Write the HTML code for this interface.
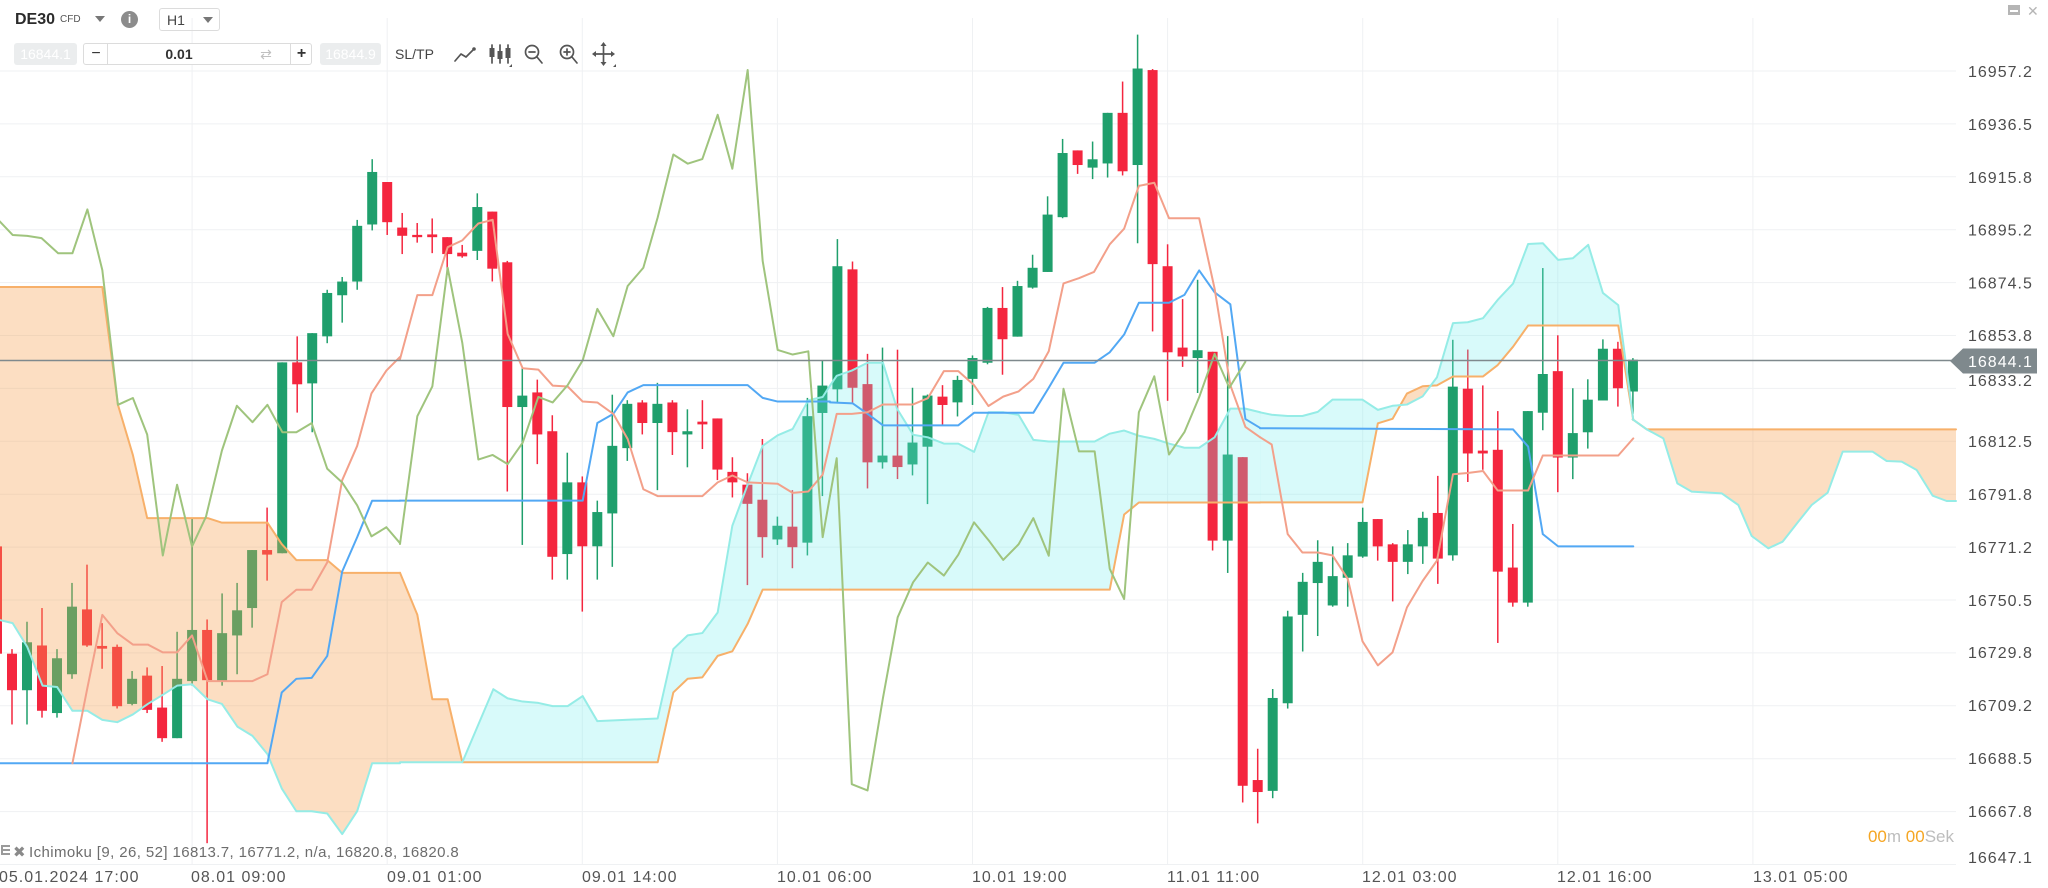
<!DOCTYPE html>
<html><head><meta charset="utf-8"><style>
html,body{margin:0;padding:0;background:#fff;}
body{width:2048px;height:888px;position:relative;overflow:hidden;font-family:"Liberation Sans",Arial,sans-serif;}
svg{position:absolute;left:0;top:0;}
.g{fill:#1f9f6c}.r{fill:#f4263f}
.ln{fill:none;stroke-width:2;vector-effect:non-scaling-stroke;stroke-linejoin:round;stroke-linecap:round}
.sa{stroke:#95ece6}.sb{stroke:#f7b06a}.tk{stroke:#f3a08a}.kj{stroke:#52a8f4}.ck{stroke:#9fc47d}
.fo{fill:rgba(246,160,80,0.35)}.fc{fill:rgba(110,235,235,0.27)}
.yl{font-size:16px;fill:#4d4d4d;letter-spacing:1px}
.xl{font-size:16px;fill:#555;letter-spacing:1px}
.tb{position:absolute;box-sizing:border-box;}
</style></head><body>
<svg width="2048" height="888" viewBox="0 0 2048 888">
<!-- grid -->
<g stroke="#eff1f3" stroke-width="1">
<line x1="0" y1="71" x2="1956" y2="71"/><line x1="0" y1="123.9" x2="1956" y2="123.9"/><line x1="0" y1="176.8" x2="1956" y2="176.8"/><line x1="0" y1="229.7" x2="1956" y2="229.7"/><line x1="0" y1="282.6" x2="1956" y2="282.6"/><line x1="0" y1="335.5" x2="1956" y2="335.5"/><line x1="0" y1="388.4" x2="1956" y2="388.4"/><line x1="0" y1="441.3" x2="1956" y2="441.3"/><line x1="0" y1="494.2" x2="1956" y2="494.2"/><line x1="0" y1="547.1" x2="1956" y2="547.1"/><line x1="0" y1="600" x2="1956" y2="600"/><line x1="0" y1="652.9" x2="1956" y2="652.9"/><line x1="0" y1="705.8" x2="1956" y2="705.8"/><line x1="0" y1="758.7" x2="1956" y2="758.7"/><line x1="0" y1="811.6" x2="1956" y2="811.6"/><line x1="0" y1="864.5" x2="1956" y2="864.5"/>
<line x1="192.1" y1="18" x2="192.1" y2="865"/><line x1="387.2" y1="18" x2="387.2" y2="865"/><line x1="582.3" y1="18" x2="582.3" y2="865"/><line x1="777.4" y1="18" x2="777.4" y2="865"/><line x1="972.5" y1="18" x2="972.5" y2="865"/><line x1="1167.6" y1="18" x2="1167.6" y2="865"/><line x1="1362.7" y1="18" x2="1362.7" y2="865"/><line x1="1557.8" y1="18" x2="1557.8" y2="865"/><line x1="1752.9" y1="18" x2="1752.9" y2="865"/>
</g>

<!-- candles G6 -->
<g transform="translate(0,140) scale(1,0.45662)">
<rect class="r" x="-8" y="890" width="10" height="235"/><rect class="r" x="-3.75" y="885" width="1.5" height="245"/>
<rect class="r" x="7" y="1125" width="10" height="80"/><rect class="r" x="11.25" y="1115" width="1.5" height="165"/>
<rect class="g" x="22" y="1100" width="10" height="105"/><rect class="g" x="26.25" y="1055" width="1.5" height="225"/>
<rect class="r" x="37" y="1107" width="10" height="143"/><rect class="r" x="41.25" y="1025" width="1.5" height="240"/>
<rect class="g" x="52" y="1135" width="10" height="120"/><rect class="g" x="56.25" y="1115" width="1.5" height="150"/>
<rect class="g" x="67" y="1022" width="10" height="148"/><rect class="g" x="71.25" y="970" width="1.5" height="210"/>
<rect class="r" x="82" y="1028" width="10" height="79"/><rect class="r" x="86.25" y="930" width="1.5" height="180"/>
<rect class="r" x="97.1" y="1108" width="10" height="6"/><rect class="r" x="101.35" y="1058" width="1.5" height="100"/>
<rect class="r" x="112.1" y="1110" width="10" height="130"/><rect class="r" x="116.35" y="1105" width="1.5" height="140"/>
<rect class="g" x="127.1" y="1180" width="10" height="55"/><rect class="g" x="131.35" y="1163" width="1.5" height="75"/>
<rect class="r" x="142.1" y="1173" width="10" height="75"/><rect class="r" x="146.35" y="1155" width="1.5" height="100"/>
<rect class="r" x="157.1" y="1243" width="10" height="67"/><rect class="r" x="161.35" y="1152" width="1.5" height="166"/>
<rect class="g" x="172.1" y="1180" width="10" height="130"/><rect class="g" x="176.35" y="1077" width="1.5" height="233"/>
<rect class="g" x="187.1" y="1073" width="10" height="112"/><rect class="g" x="191.35" y="830" width="1.5" height="365"/>
<rect class="r" x="202.1" y="1073" width="10" height="110"/><rect class="r" x="206.35" y="1050" width="1.5" height="490"/>
<rect class="g" x="217.1" y="1080" width="10" height="105"/><rect class="g" x="221.35" y="993" width="1.5" height="202"/>
<rect class="g" x="232.1" y="1030" width="10" height="55"/><rect class="g" x="236.35" y="970" width="1.5" height="200"/>
<rect class="g" x="247.1" y="898" width="10" height="127"/><rect class="g" x="251.35" y="898" width="1.5" height="170"/>
<rect class="r" x="262.1" y="898" width="10" height="10"/><rect class="r" x="266.35" y="805" width="1.5" height="160"/>
<rect class="g" x="277.2" y="487" width="10" height="418"/><rect class="g" x="281.45" y="487" width="1.5" height="418"/>
<rect class="r" x="292.2" y="487" width="10" height="48"/><rect class="r" x="296.45" y="430" width="1.5" height="167"/>
<rect class="g" x="307.2" y="423" width="10" height="110"/><rect class="g" x="311.45" y="423" width="1.5" height="217"/>
<rect class="g" x="322.2" y="335" width="10" height="95"/><rect class="g" x="326.45" y="328" width="1.5" height="117"/>
<rect class="g" x="337.2" y="310" width="10" height="30"/><rect class="g" x="341.45" y="300" width="1.5" height="100"/>
<rect class="g" x="352.2" y="188" width="10" height="122"/><rect class="g" x="356.45" y="175" width="1.5" height="153"/>
<rect class="g" x="367.2" y="70" width="10" height="115"/><rect class="g" x="371.45" y="42" width="1.5" height="156"/>
<rect class="r" x="382.2" y="92" width="10" height="88"/><rect class="r" x="386.45" y="92" width="1.5" height="116"/>
</g>
<!-- candles G7 -->
<g transform="translate(0,60) scale(1,0.45662)">
<rect class="r" x="397.2" y="367" width="10" height="18"/><rect class="r" x="401.45" y="335" width="1.5" height="90"/>
<rect class="r" x="412.2" y="383" width="10" height="5"/><rect class="r" x="416.45" y="357" width="1.5" height="43"/>
<rect class="r" x="427.2" y="382" width="10" height="6"/><rect class="r" x="431.45" y="347" width="1.5" height="76"/>
<rect class="r" x="442.2" y="388" width="10" height="37"/><rect class="r" x="446.45" y="388" width="1.5" height="82"/>
<rect class="r" x="457.2" y="422" width="10" height="8"/><rect class="r" x="461.45" y="405" width="1.5" height="28"/>
<rect class="g" x="472.3" y="322" width="10" height="96"/><rect class="g" x="476.55" y="292" width="1.5" height="146"/>
<rect class="r" x="487.3" y="332" width="10" height="125"/><rect class="r" x="491.55" y="332" width="1.5" height="153"/>
<rect class="r" x="502.3" y="443" width="10" height="317"/><rect class="r" x="506.55" y="440" width="1.5" height="505"/>
<rect class="g" x="517.3" y="735" width="10" height="25"/><rect class="g" x="521.55" y="675" width="1.5" height="387"/>
<rect class="r" x="532.3" y="728" width="10" height="92"/><rect class="r" x="536.55" y="700" width="1.5" height="185"/>
<rect class="r" x="547.3" y="813" width="10" height="275"/><rect class="r" x="551.55" y="778" width="1.5" height="360"/>
<rect class="g" x="562.3" y="925" width="10" height="157"/><rect class="g" x="566.55" y="860" width="1.5" height="278"/>
<rect class="r" x="577.3" y="925" width="10" height="140"/><rect class="r" x="581.55" y="912" width="1.5" height="296"/>
<rect class="g" x="592.3" y="990" width="10" height="75"/><rect class="g" x="596.55" y="965" width="1.5" height="173"/>
<rect class="g" x="607.3" y="845" width="10" height="148"/><rect class="g" x="611.55" y="733" width="1.5" height="377"/>
<rect class="g" x="622.3" y="753" width="10" height="97"/><rect class="g" x="626.55" y="745" width="1.5" height="133"/>
<rect class="r" x="637.3" y="750" width="10" height="45"/><rect class="r" x="641.55" y="745" width="1.5" height="75"/>
<rect class="g" x="652.4" y="753" width="10" height="42"/><rect class="g" x="656.65" y="707" width="1.5" height="235"/>
<rect class="r" x="667.4" y="750" width="10" height="65"/><rect class="r" x="671.65" y="745" width="1.5" height="120"/>
<rect class="g" x="682.4" y="813" width="10" height="7"/><rect class="g" x="686.65" y="765" width="1.5" height="127"/>
<rect class="r" x="697.4" y="792" width="10" height="6"/><rect class="r" x="701.65" y="745" width="1.5" height="107"/>
<rect class="r" x="712.4" y="785" width="10" height="112"/><rect class="r" x="716.65" y="785" width="1.5" height="135"/>
<rect class="r" x="727.4" y="902" width="10" height="23"/><rect class="r" x="731.65" y="870" width="1.5" height="88"/>
<rect class="r" x="742.4" y="930" width="10" height="42"/><rect class="r" x="746.65" y="905" width="1.5" height="245"/>
<rect class="r" x="757.4" y="963" width="10" height="82"/><rect class="r" x="761.65" y="830" width="1.5" height="260"/>
<rect class="g" x="772.4" y="1020" width="10" height="30"/><rect class="g" x="776.65" y="1000" width="1.5" height="62"/>
<rect class="r" x="787.4" y="1022" width="10" height="45"/><rect class="r" x="791.65" y="942" width="1.5" height="171"/>
<rect class="g" x="802.4" y="780" width="10" height="277"/><rect class="g" x="806.65" y="740" width="1.5" height="345"/>
<rect class="g" x="817.4" y="713" width="10" height="60"/><rect class="g" x="821.65" y="657" width="1.5" height="298"/>
</g>
<!-- candles G8 -->
<g transform="translate(0,20) scale(1,0.52165)">
<rect class="g" x="832.4" y="472" width="10" height="236"/><rect class="g" x="836.65" y="420" width="1.5" height="315"/>
<rect class="r" x="847.5" y="478" width="10" height="227"/><rect class="r" x="851.75" y="463" width="1.5" height="272"/>
<rect class="r" x="862.5" y="698" width="10" height="150"/><rect class="r" x="866.75" y="640" width="1.5" height="258"/>
<rect class="g" x="877.5" y="835" width="10" height="13"/><rect class="g" x="881.75" y="628" width="1.5" height="232"/>
<rect class="r" x="892.5" y="835" width="10" height="22"/><rect class="r" x="896.75" y="632" width="1.5" height="248"/>
<rect class="g" x="907.5" y="810" width="10" height="42"/><rect class="g" x="911.75" y="705" width="1.5" height="168"/>
<rect class="g" x="922.5" y="720" width="10" height="98"/><rect class="g" x="926.75" y="718" width="1.5" height="210"/>
<rect class="r" x="937.5" y="722" width="10" height="16"/><rect class="r" x="941.75" y="700" width="1.5" height="78"/>
<rect class="g" x="952.5" y="690" width="10" height="43"/><rect class="g" x="956.75" y="682" width="1.5" height="78"/>
<rect class="g" x="967.5" y="648" width="10" height="40"/><rect class="g" x="971.75" y="643" width="1.5" height="95"/>
<rect class="g" x="982.5" y="552" width="10" height="105"/><rect class="g" x="986.75" y="550" width="1.5" height="110"/>
<rect class="r" x="997.5" y="552" width="10" height="60"/><rect class="r" x="1001.75" y="512" width="1.5" height="168"/>
<rect class="g" x="1012.5" y="510" width="10" height="97"/><rect class="g" x="1016.75" y="500" width="1.5" height="107"/>
<rect class="g" x="1027.6" y="475" width="10" height="38"/><rect class="g" x="1031.85" y="450" width="1.5" height="65"/>
<rect class="g" x="1042.6" y="373" width="10" height="110"/><rect class="g" x="1046.85" y="338" width="1.5" height="145"/>
<rect class="g" x="1057.6" y="255" width="10" height="123"/><rect class="g" x="1061.85" y="228" width="1.5" height="152"/>
<rect class="r" x="1072.6" y="250" width="10" height="28"/><rect class="r" x="1076.85" y="250" width="1.5" height="45"/>
<rect class="g" x="1087.6" y="267" width="10" height="16"/><rect class="g" x="1091.85" y="233" width="1.5" height="72"/>
<rect class="g" x="1102.6" y="178" width="10" height="97"/><rect class="g" x="1106.85" y="178" width="1.5" height="124"/>
<rect class="r" x="1117.6" y="178" width="10" height="112"/><rect class="r" x="1121.85" y="118" width="1.5" height="180"/>
<rect class="g" x="1132.6" y="93" width="10" height="185"/><rect class="g" x="1136.85" y="28" width="1.5" height="400"/>
<rect class="r" x="1147.6" y="96" width="10" height="372"/><rect class="r" x="1151.85" y="94" width="1.5" height="503"/>
<rect class="r" x="1162.6" y="472" width="10" height="165"/><rect class="r" x="1166.85" y="430" width="1.5" height="300"/>
<rect class="r" x="1177.6" y="628" width="10" height="17"/><rect class="r" x="1181.85" y="535" width="1.5" height="130"/>
<rect class="g" x="1192.6" y="633" width="10" height="15"/><rect class="g" x="1196.85" y="498" width="1.5" height="217"/>
<rect class="r" x="1207.6" y="636" width="10" height="362"/><rect class="r" x="1211.85" y="636" width="1.5" height="381"/>
<rect class="g" x="1222.7" y="833" width="10" height="165"/><rect class="g" x="1226.95" y="606" width="1.5" height="454"/>
<rect class="r" x="1237.7" y="838" width="10" height="630"/><rect class="r" x="1241.95" y="838" width="1.5" height="662"/>
<rect class="r" x="1252.7" y="1457" width="10" height="23"/><rect class="r" x="1256.95" y="1397" width="1.5" height="143"/>
</g>
<!-- candles G9 -->
<g transform="translate(0,200) scale(1,0.40750)">
<rect class="g" x="1267.7" y="1222" width="10" height="228"/><rect class="g" x="1271.95" y="1200" width="1.5" height="268"/>
<rect class="g" x="1282.7" y="1022" width="10" height="213"/><rect class="g" x="1286.95" y="1008" width="1.5" height="240"/>
<rect class="g" x="1297.7" y="937" width="10" height="81"/><rect class="g" x="1301.95" y="915" width="1.5" height="193"/>
<rect class="g" x="1312.7" y="888" width="10" height="52"/><rect class="g" x="1316.95" y="835" width="1.5" height="235"/>
<rect class="g" x="1327.7" y="923" width="10" height="72"/><rect class="g" x="1331.95" y="850" width="1.5" height="148"/>
<rect class="g" x="1342.7" y="872" width="10" height="55"/><rect class="g" x="1346.95" y="842" width="1.5" height="156"/>
<rect class="g" x="1357.7" y="790" width="10" height="85"/><rect class="g" x="1361.95" y="755" width="1.5" height="123"/>
<rect class="r" x="1372.7" y="783" width="10" height="67"/><rect class="r" x="1376.95" y="783" width="1.5" height="102"/>
<rect class="r" x="1387.7" y="845" width="10" height="43"/><rect class="r" x="1391.95" y="842" width="1.5" height="143"/>
<rect class="g" x="1402.8" y="845" width="10" height="43"/><rect class="g" x="1407.05" y="810" width="1.5" height="108"/>
<rect class="g" x="1417.8" y="780" width="10" height="70"/><rect class="g" x="1422.05" y="765" width="1.5" height="128"/>
<rect class="r" x="1432.8" y="768" width="10" height="112"/><rect class="r" x="1437.05" y="677" width="1.5" height="265"/>
<rect class="g" x="1447.8" y="458" width="10" height="414"/><rect class="g" x="1452.05" y="343" width="1.5" height="542"/>
<rect class="r" x="1462.8" y="463" width="10" height="159"/><rect class="r" x="1467.05" y="367" width="1.5" height="325"/>
<rect class="r" x="1477.8" y="615" width="10" height="7"/><rect class="r" x="1482.05" y="455" width="1.5" height="207"/>
<rect class="r" x="1492.8" y="613" width="10" height="299"/><rect class="r" x="1497.05" y="518" width="1.5" height="569"/>
<rect class="r" x="1507.8" y="902" width="10" height="86"/><rect class="r" x="1512.05" y="795" width="1.5" height="203"/>
<rect class="g" x="1522.8" y="518" width="10" height="470"/><rect class="g" x="1527.05" y="518" width="1.5" height="480"/>
<rect class="g" x="1537.8" y="427" width="10" height="95"/><rect class="g" x="1542.05" y="167" width="1.5" height="398"/>
<rect class="r" x="1552.8" y="420" width="10" height="212"/><rect class="r" x="1557.05" y="332" width="1.5" height="385"/>
<rect class="g" x="1567.8" y="572" width="10" height="60"/><rect class="g" x="1572.05" y="462" width="1.5" height="223"/>
<rect class="g" x="1582.8" y="490" width="10" height="80"/><rect class="g" x="1587.05" y="440" width="1.5" height="170"/>
<rect class="g" x="1597.9" y="365" width="10" height="127"/><rect class="g" x="1602.15" y="342" width="1.5" height="150"/>
<rect class="r" x="1612.9" y="365" width="10" height="97"/><rect class="r" x="1617.15" y="348" width="1.5" height="159"/>
<rect class="g" x="1627.9" y="392" width="10" height="78"/><rect class="g" x="1632.15" y="388" width="1.5" height="137"/>
</g>

<!-- cloud fills + lines -->
<g transform="translate(0,140) scale(0.33223,0.45662)">
<polygon class="fo" points="-9,322 308,322 355,580 400,690 443,828 625,828 668,838 805,838 848,885 892,920 985,920 1030,948 1204,948 1204,1365 1120,1365 1075,1470 1030,1520 985,1475 938,1470 892,1470 848,1420 805,1345 760,1305 715,1285 668,1235 625,1225 578,1192 533,1195 490,1215 445,1235 400,1258 353,1275 308,1270 263,1250 218,1250 172,1198 128,1195 82,1110 38,1058 -9,1050"/>
<polyline class="ln sb" vector-effect="non-scaling-stroke" points="-9,322 308,322 355,580 400,690 443,828 625,828 668,838 805,838 848,885 892,920 985,920 1030,948 1204,948"/>
<polyline class="ln sa" vector-effect="non-scaling-stroke" points="-9,1050 38,1058 82,1110 128,1195 172,1198 218,1250 263,1250 308,1270 353,1275 400,1258 445,1235 490,1215 533,1195 578,1192 625,1225 668,1235 715,1285 760,1305 805,1345 848,1420 892,1470 938,1470 985,1475 1030,1520 1075,1470 1120,1365 1204,1365"/>
<polyline class="ln kj" vector-effect="non-scaling-stroke" points="-9,1365 805,1365 848,1210 892,1180 938,1178 985,1130 1030,945 1075,870 1120,790 1204,790"/>
<polyline class="ln tk" vector-effect="non-scaling-stroke" points="218,1365 263,1200 308,1040 353,1080 400,1105 445,1105 490,1122 533,1122 578,1085 625,1185 760,1185 805,1170 848,1012 892,985 938,985 985,925 1030,745 1075,670 1118,555 1163,505 1204,475"/>
<polyline class="ln ck" vector-effect="non-scaling-stroke" points="-9,172 38,208 82,210 125,215 175,248 218,248 263,152 308,285 355,580 400,565 443,645 490,910 533,755 578,890 620,825 668,680 713,582 760,618 805,580 850,640 892,640 938,620 985,720 1030,750 1075,800 1118,868 1163,848 1204,883"/>
</g>
<g transform="translate(400,60) scale(0.33333,0.45662)">
<polygon class="fo" points="0,1123 52,1215 97,1400 143,1400 187,1538 0,1538"/>
<polygon class="fc" points="187,1538 280,1378 323,1398 368,1405 415,1408 458,1415 503,1415 548,1393 592,1448 773,1442 820,1290 863,1260 907,1255 953,1210 997,1020 1043,930 1088,845 1133,822 1178,808 1225,745 1268,738 1290,713 1290,1160 1088,1160 1043,1235 997,1295 953,1305 907,1352 863,1355 820,1385 773,1538"/>
<polyline class="ln sb" vector-effect="non-scaling-stroke" points="0,1123 52,1215 97,1400 143,1400 187,1538 773,1538 820,1385 863,1355 907,1352 953,1305 997,1295 1043,1235 1088,1160 1290,1160"/>
<polyline class="ln sa" vector-effect="non-scaling-stroke" points="0,1538 187,1538 280,1378 323,1398 368,1405 415,1408 458,1415 503,1415 548,1393 592,1448 773,1442 820,1290 863,1260 907,1255 953,1210 997,1020 1043,930 1088,845 1133,822 1178,808 1225,745 1268,738 1290,713"/>
<polyline class="ln kj" vector-effect="non-scaling-stroke" points="0,965 548,965 592,795 640,775 683,728 730,712 1043,712 1088,740 1133,748 1290,748"/>
<polyline class="ln tk" vector-effect="non-scaling-stroke" points="0,655 52,515 97,515 143,410 187,395 235,358 278,350 323,600 368,675 415,678 458,713 503,715 548,748 592,750 640,775 683,830 730,940 773,955 907,955 953,925 997,910 1043,925 1133,928 1178,948 1225,945 1268,908 1290,839"/>
<polyline class="ln ck" vector-effect="non-scaling-stroke" points="0,1060 52,780 97,715 143,455 187,620 235,875 278,865 323,885 368,838 415,738 458,750 503,712 548,658 592,545 640,605 683,495 730,455 773,345 820,207 863,227 907,217 953,120 997,238 1043,22 1088,440 1133,635 1178,645 1225,638 1268,1045 1290,955"/>
</g>
<g transform="translate(830,20) scale(0.33501,0.52165)">
<polygon class="fc" points="0,701 20,682 65,672 112,657 158,657 200,745 248,795 292,800 340,812 383,812 430,828 473,752 517,752 563,757 607,805 653,808 790,808 835,793 878,787 922,797 968,803 1012,812 1058,820 1102,820 1148,800 1195,745 1240,745 1284,752 1284,925 922,925 878,948 835,1092 0,1092"/>
<polyline class="ln sb" vector-effect="non-scaling-stroke" points="0,1092 835,1092 878,948 922,925 1284,925"/>
<polyline class="ln sa" vector-effect="non-scaling-stroke" points="0,701 20,682 65,672 112,657 158,657 200,745 248,795 292,800 340,812 383,812 430,828 473,752 517,752 563,757 607,805 653,808 790,808 835,793 878,787 922,797 968,803 1012,812 1058,820 1102,820 1148,800 1195,745 1240,745 1284,752"/>
<polyline class="ln kj" vector-effect="non-scaling-stroke" points="0,733 68,735 112,755 158,777 383,777 430,753 607,753 653,705 697,657 790,657 835,637 878,603 922,542 1012,542 1058,527 1102,480 1148,522 1195,545 1240,765 1284,782"/>
<polyline class="ln tk" vector-effect="non-scaling-stroke" points="0,811 20,755 65,755 112,752 158,737 248,737 292,725 340,673 383,673 430,700 473,740 517,722 563,712 607,688 653,635 697,505 743,495 788,483 835,430 878,400 922,318 968,312 1012,380 1102,380 1148,515 1195,700 1240,780 1284,800"/>
<polyline class="ln ck" vector-effect="non-scaling-stroke" points="0,912 20,840 65,1465 112,1477 158,1300 202,1145 248,1078 292,1040 340,1065 383,1025 430,963 473,997 517,1035 563,1005 607,955 653,1027 697,707 743,827 790,827 835,1052 878,1110 922,752 968,683 1012,833 1058,790 1102,723 1148,640 1192,705 1240,655"/>
</g>
<g transform="translate(1260,200) scale(0.33389,0.40750)">
<polygon class="fc" points="0,521 35,527 83,530 127,530 173,520 217,490 263,490 307,490 353,515 397,505 420,503 397,537 353,548 307,742 0,742"/>
<polygon class="fo" points="420,503 440,475 487,457 511,456 487,482 440,502"/>
<polygon class="fc" points="511,456 530,435 578,302 622,300 668,290 712,245 758,205 803,108 847,106 893,147 937,143 983,110 1027,228 1073,258 1118,540 1073,308 803,308 758,360 712,405 668,433 578,433 530,455"/>
<polyline class="ln sb" vector-effect="non-scaling-stroke" points="0,742 307,742 353,548 397,537 440,475 487,457 530,455 578,433 668,433 712,405 758,360 803,308 1073,308 1118,540"/>
<polyline class="ln sa" vector-effect="non-scaling-stroke" points="0,521 35,527 83,530 127,530 173,520 217,490 263,490 307,490 353,515 397,505 440,502 487,482 530,435 578,302 622,300 668,290 712,245 758,205 803,108 847,106 893,147 937,143 983,110 1027,228 1073,258 1118,540"/>
<polyline class="ln kj" vector-effect="non-scaling-stroke" points="0,560 758,563 803,605 847,820 893,850 1118,850"/>
<polyline class="ln tk" vector-effect="non-scaling-stroke" points="0,582 35,600 83,820 127,865 173,865 217,872 263,930 307,1083 353,1142 397,1110 440,1000 487,935 530,885 578,673 622,670 668,665 712,713 803,713 847,627 1073,627 1118,585"/>
</g>
<g transform="translate(1600,330) scale(0.33333,0.33333)">
<polygon class="fo" points="98,268 140,298 1068,298 1068,513 1040,513 998,497 950,420 905,395 860,393 818,365 728,365 683,488 635,525 595,575 548,635 505,655 455,618 415,525 365,490 275,485 232,460 190,325 140,298"/>
<polyline class="ln sb" vector-effect="non-scaling-stroke" points="98,268 140,298 1068,298"/>
<polyline class="ln sa" vector-effect="non-scaling-stroke" points="98,268 140,298 190,325 232,460 275,485 365,490 415,525 455,618 505,655 548,635 595,575 635,525 683,488 728,365 818,365 860,393 905,395 950,420 998,497 1040,513 1068,513"/>
</g>

<!-- current price line -->
<line x1="0" y1="360.5" x2="1952" y2="360.5" stroke="#7f898d" stroke-width="1.6"/>
<polygon points="1950,361 1963,348.5 2037,348.5 2037,373.5 1963,373.5" fill="#7f898d"/>
<text x="1968" y="367" class="yl" style="fill:#fff">16844.1</text>

<!-- y labels -->
<text class="yl" x="1968" y="77">16957.2</text>
<text class="yl" x="1968" y="130">16936.5</text>
<text class="yl" x="1968" y="183">16915.8</text>
<text class="yl" x="1968" y="235.5">16895.2</text>
<text class="yl" x="1968" y="288.5">16874.5</text>
<text class="yl" x="1968" y="341">16853.8</text>
<text class="yl" x="1968" y="386">16833.2</text>
<text class="yl" x="1968" y="447">16812.5</text>
<text class="yl" x="1968" y="500">16791.8</text>
<text class="yl" x="1968" y="553">16771.2</text>
<text class="yl" x="1968" y="606">16750.5</text>
<text class="yl" x="1968" y="658">16729.8</text>
<text class="yl" x="1968" y="711">16709.2</text>
<text class="yl" x="1968" y="764">16688.5</text>
<text class="yl" x="1968" y="817">16667.8</text>
<text class="yl" x="1968" y="863">16647.1</text>

<!-- x labels -->
<text class="xl" x="-1" y="882">05.01.2024 17:00</text>
<text class="xl" x="191" y="882">08.01 09:00</text>
<text class="xl" x="387" y="882">09.01 01:00</text>
<text class="xl" x="582" y="882">09.01 14:00</text>
<text class="xl" x="777" y="882">10.01 06:00</text>
<text class="xl" x="972" y="882">10.01 19:00</text>
<text class="xl" x="1167" y="882">11.01 11:00</text>
<text class="xl" x="1362" y="882">12.01 03:00</text>
<text class="xl" x="1557" y="882">12.01 16:00</text>
<text class="xl" x="1753" y="882">13.01 05:00</text>

<!-- indicator label -->
<g fill="#9a9a9a"><rect x="1" y="845" width="9" height="2"/><rect x="1" y="849" width="9" height="2"/><rect x="1" y="853" width="9" height="2"/><rect x="1" y="845" width="2" height="10"/></g>
<text x="13" y="857" font-size="15" fill="#8a8a8a">✖</text>
<text x="29" y="857" font-size="15" fill="#6d6d6d" style="letter-spacing:0.4px">Ichimoku [9, 26, 52] 16813.7, 16771.2, n/a, 16820.8, 16820.8</text>

<!-- timer -->
<text x="1954" y="842" text-anchor="end" font-size="17"><tspan fill="#f5a623">00</tspan><tspan fill="#bdbdbd">m </tspan><tspan fill="#f5a623">00</tspan><tspan fill="#bdbdbd">Sek</tspan></text>

<!-- top right icons -->
<rect x="2008" y="5" width="12" height="10" fill="#b5b5b5"/><rect x="2010" y="10" width="8" height="2" fill="#fff"/>
<text x="2027" y="16" font-size="14" fill="#b5b5b5">✕</text>

<!-- toolbar icons -->
<g fill="none" stroke="#555" stroke-width="1.7" stroke-linecap="round" stroke-linejoin="round">
<polyline points="455,61 461,54 466,57 474,49"/>
<line x1="492" y1="45" x2="492" y2="63"/><line x1="500" y1="45" x2="500" y2="63"/><line x1="508" y1="45" x2="508" y2="63"/>
<circle cx="532" cy="52" r="6.5"/><line x1="537" y1="57" x2="542" y2="63"/><line x1="529" y1="52" x2="535" y2="52"/>
<circle cx="567" cy="52" r="6.5"/><line x1="572" y1="57" x2="577" y2="63"/><line x1="564" y1="52" x2="570" y2="52"/><line x1="567" y1="49" x2="567" y2="55"/>
<line x1="594" y1="54" x2="613" y2="54"/><line x1="603.5" y1="44" x2="603.5" y2="64"/>
</g>
<g fill="#555">
<rect x="489.5" y="48" width="5" height="9"/><rect x="497.5" y="51" width="5" height="8"/><rect x="505.5" y="48" width="5" height="10"/>
<circle cx="474" cy="49" r="1.8"/>
<polygon points="603.5,42 600.5,46 606.5,46"/><polygon points="603.5,66 600.5,62 606.5,62"/><polygon points="592,54 596,51 596,57"/><polygon points="615,54 611,51 611,57"/>
<polygon points="512,64 512,67 509,67"/><polygon points="616,64 616,67 613,67"/>
</g>
</svg>

<!-- toolbar HTML -->
<div class="tb" style="left:15px;top:10px;font-size:16px;font-weight:bold;color:#2b2b2b;line-height:20px;">DE30</div>
<div class="tb" style="left:60px;top:14px;font-size:10px;color:#555;line-height:12px;">CFD</div>
<div class="tb" style="left:95px;top:16px;width:0;height:0;border-left:5px solid transparent;border-right:5px solid transparent;border-top:6px solid #777;"></div>
<div class="tb" style="left:121px;top:11px;width:17px;height:17px;border-radius:50%;background:#8c8c8c;color:#fff;font-size:12px;font-weight:bold;text-align:center;line-height:17px;">i</div>
<div class="tb" style="left:159px;top:8px;width:61px;height:23px;border:1px solid #dcdcdc;border-radius:3px;"></div>
<div class="tb" style="left:167px;top:12px;font-size:14px;color:#444;line-height:16px;">H1</div>
<div class="tb" style="left:203px;top:17px;width:0;height:0;border-left:5px solid transparent;border-right:5px solid transparent;border-top:6px solid #777;"></div>

<div class="tb" style="left:14px;top:43px;width:63px;height:22px;background:#ebedee;border-radius:3px;color:#fff;font-size:14px;line-height:22px;text-align:center;">16844.1</div>
<div class="tb" style="left:83px;top:43px;width:229px;height:22px;border:1px solid #dcdcdc;border-radius:3px;background:#fff;"></div>
<div class="tb" style="left:90px;top:43px;width:12px;font-size:16px;line-height:21px;color:#333;text-align:center;">−</div>
<div class="tb" style="left:107px;top:44px;width:1px;height:20px;background:#dcdcdc;"></div>
<div class="tb" style="left:150px;top:43px;width:58px;font-size:14px;font-weight:bold;line-height:22px;color:#333;text-align:center;">0.01</div>
<div class="tb" style="left:258px;top:43px;width:16px;font-size:14px;line-height:22px;color:#c0c0c0;text-align:center;">⇄</div>
<div class="tb" style="left:290px;top:44px;width:1px;height:20px;background:#dcdcdc;"></div>
<div class="tb" style="left:294px;top:43px;width:15px;font-size:16px;font-weight:bold;line-height:21px;color:#333;text-align:center;">+</div>
<div class="tb" style="left:320px;top:43px;width:61px;height:22px;background:#ebedee;border-radius:3px;color:#fff;font-size:14px;line-height:22px;text-align:center;">16844.9</div>
<div class="tb" style="left:395px;top:46px;font-size:14px;color:#444;line-height:16px;">SL/TP</div>
</body></html>
